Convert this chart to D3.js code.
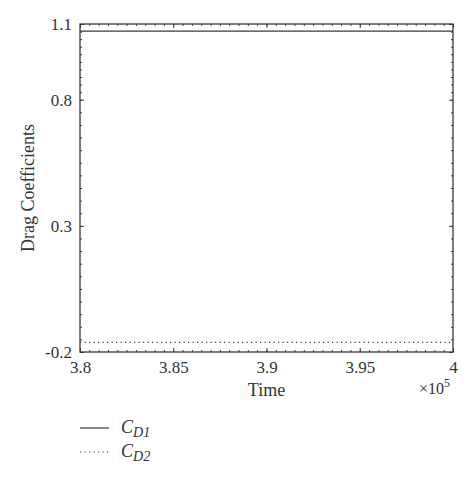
<!DOCTYPE html>
<html><head><meta charset="utf-8">
<script src="https://cdn.jsdelivr.net/npm/d3@7"></script>
<style>body{margin:0;background:#fff}svg{display:block}text{font-family:"Liberation Serif","Times New Roman",serif;fill:#333}</style>
</head><body><svg id="c" width="474" height="477"></svg>
<script>
const time = [380000, 385000, 390000, 395000, 400000];
const cd1 = [1.072, 1.072, 1.072, 1.072, 1.072];
const cd2 = [-0.162, -0.162, -0.162, -0.162, -0.162];
const xTicks = [380000, 385000, 390000, 395000, 400000];
const yTicks = [-0.2, 0.3, 0.8, 1.1];
const seriesNames = ["D1", "D2"];

const svg = d3.select("#c");
const L = 80, T = 24, R = 453, B = 352;
const x = d3.scaleLinear().domain([380000, 400000]).range([L, R]);
const y = d3.scaleLinear().domain([-0.2, 1.1]).range([B, T]);
const col = "#3a3a3a";

const xMinor = d3.range(0, 41).map(i => 380000 + i * 500);
const yMinor = d3.range(0, 10).map(i => -0.2 + i * 0.05)
  .concat(d3.range(0, 10).map(i => 0.3 + i * 0.05))
  .concat(d3.range(0, 11).map(i => 0.8 + i * 0.03));

function styleAxis(g){ g.select(".domain").remove(); g.selectAll("line").attr("stroke", col).attr("stroke-width", 1); }

svg.append("g").attr("transform", `translate(0,${B})`).call(d3.axisBottom(x).tickValues(xMinor).tickSize(-2).tickFormat("")).call(styleAxis);
svg.append("g").attr("transform", `translate(0,${T})`).call(d3.axisTop(x).tickValues(xMinor).tickSize(-2).tickFormat("")).call(styleAxis);
svg.append("g").attr("transform", `translate(${L},0)`).call(d3.axisLeft(y).tickValues(yMinor).tickSize(-2).tickFormat("")).call(styleAxis);
svg.append("g").attr("transform", `translate(${R},0)`).call(d3.axisRight(y).tickValues(yMinor).tickSize(-2).tickFormat("")).call(styleAxis);

const xa = svg.append("g").attr("transform", `translate(0,${B})`)
  .call(d3.axisBottom(x).tickValues(xTicks).tickSize(-4).tickPadding(9).tickFormat(d => String(+(d / 1e5).toFixed(2))))
  .call(styleAxis);
xa.selectAll("text").attr("font-size", 17).attr("fill", col).attr("font-family", "Liberation Serif");
svg.append("g").attr("transform", `translate(0,${T})`).call(d3.axisTop(x).tickValues(xTicks).tickSize(-4).tickFormat("")).call(styleAxis);
const ya = svg.append("g").attr("transform", `translate(${L},0)`)
  .call(d3.axisLeft(y).tickValues(yTicks).tickSize(-4).tickPadding(8).tickFormat(d => String(d)))
  .call(styleAxis);
ya.selectAll("text").attr("font-size", 17).attr("fill", col).attr("font-family", "Liberation Serif");
svg.append("g").attr("transform", `translate(${R},0)`).call(d3.axisRight(y).tickValues(yTicks).tickSize(-4).tickFormat("")).call(styleAxis);

svg.append("rect").attr("x", L).attr("y", T).attr("width", R - L).attr("height", B - T)
  .attr("fill", "none").attr("stroke", col).attr("stroke-width", 1.3);

const line = d3.line().x((d, i) => x(time[i])).y(d => y(d));
svg.append("path").datum(cd1).attr("d", line).attr("fill", "none").attr("stroke", col).attr("stroke-width", 1.2);
svg.append("path").datum(cd2).attr("d", line).attr("fill", "none").attr("stroke", col).attr("stroke-width", 1.2).attr("stroke-dasharray", "1.2,3.3");

svg.append("text").attr("x", (L + R) / 2).attr("y", 396).attr("text-anchor", "middle").attr("font-size", 18).text("Time");
const ex = svg.append("text").attr("x", 419).attr("y", 394).attr("text-anchor", "start").attr("font-size", 16);
ex.append("tspan").text("×10");
ex.append("tspan").attr("dy", -7).attr("font-size", 12).text("5");
svg.append("text").attr("transform", `translate(34,${(T + B) / 2}) rotate(-90)`).attr("text-anchor", "middle").attr("font-size", 18).text("Drag Coefficients");

const lg = svg.append("g");
seriesNames.forEach((n, i) => {
  const yy = 428 + i * 24;
  lg.append("line").attr("x1", 80).attr("x2", 109).attr("y1", yy).attr("y2", yy)
    .attr("stroke", col).attr("stroke-width", 1.2).attr("stroke-dasharray", i === 0 ? null : "1.2,3.3");
  const t = lg.append("text").attr("x", 121).attr("y", yy + 5).attr("font-size", 18);
  t.append("tspan").attr("font-style", "italic").text("C");
  t.append("tspan").attr("dy", 4).attr("font-size", 14).attr("font-style", "italic").text(n);
});
</script></body></html>
